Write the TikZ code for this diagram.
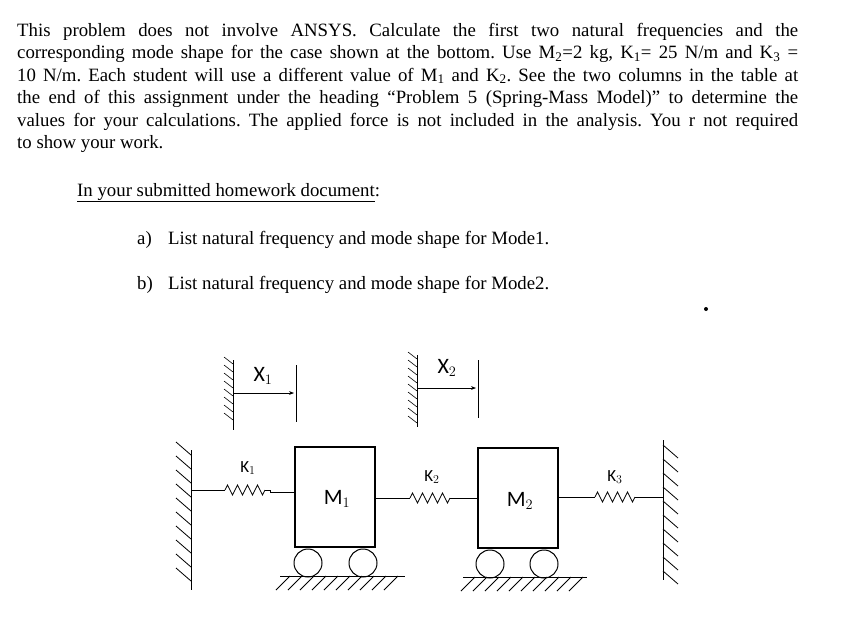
\documentclass[tikz,border=0pt]{standalone}
\usepackage{fontspec}
\setmainfont{Liberation Serif}
\newfontfamily\diagfont{Carlito}
\usetikzlibrary{decorations.pathmorphing,arrows.meta}
\begin{document}
\frenchspacing
\begin{tikzpicture}[x=1pt,y=-1pt,
  txt/.style={anchor=base west,inner sep=0pt,font=\fontsize{18.8}{21}\selectfont},
  lbl/.style={font=\diagfont\fontsize{22}{22}\selectfont,inner sep=0pt},
  klbl/.style={font=\diagfont\fontsize{17}{17}\selectfont,inner sep=0pt},
  mass/.style={draw,line width=1.2pt,minimum width=80pt,minimum height=100pt,inner sep=0pt},
  spr/.style={decorate,decoration={zigzag,segment length=10pt,amplitude=5pt,pre length=0pt,post length=0pt}},
  ln/.style={line width=0.8pt},
  wheel/.style={draw,line width=1pt,circle,minimum size=28pt,inner sep=0pt}]
\useasboundingbox (0,0) rectangle (862,625);
\fill[white] (0,0) rectangle (862,625);
\def\W{781pt}
\node[txt] (l1) at (17,36) {\makebox[\W][s]{This problem does not involve ANSYS. Calculate the first two natural frequencies and the}};
\node[txt] (l2) at (17,58.5) {\makebox[\W][s]{corresponding mode shape for the case shown at the bottom. Use M\textsubscript{2}=2 kg, K\textsubscript{1}= 25 N/m and K\textsubscript{3} =}};
\node[txt] (l3) at (17,81) {\makebox[\W][s]{10 N/m. Each student will use a different value of M\textsubscript{1} and K\textsubscript{2}. See the two columns in the table at}};
\node[txt] (l4) at (17,103.5) {\makebox[\W][s]{the end of this assignment under the heading “Problem 5 (Spring-Mass Model)” to determine the}};
\node[txt] (l5) at (17,126) {\makebox[\W][s]{values for your calculations. The applied force is not included in the analysis. You r not required}};
\node[txt] (l6) at (17,148.5) {to show your work.};
\node[txt] (hd) at (77,196) {\underline{In your submitted homework document}:};
\node[txt] (a) at (137,244) {a)};
\node[txt] (at) at (168,244) {List natural frequency and mode shape for Mode1.};
\node[txt] (b) at (137,289) {b)};
\node[txt] (bt) at (168,289) {List natural frequency and mode shape for Mode2.};
\fill (706,309) circle (2pt);

% walls
\coordinate (lwT) at (191,450); \coordinate (lwB) at (191,590);
\draw[ln] (lwT) -- (lwB);
\foreach \y in {455,469,...,585} \draw[ln] (191,\y) -- (176,\y-13);
\coordinate (rwT) at (663,440); \coordinate (rwB) at (663,580);
\draw[ln] (rwT) -- (rwB);
\foreach \y in {445,459,...,575} \draw[ln] (663,\y) -- (678,\y+13);
% masses
\node[mass] (m1) at (335,497) {};
\node[lbl] at (337,499) {M$_1$};
\node[mass] (m2) at (518,498) {};
\node[lbl] at (520,501) {M$_2$};
% wheels
\node[wheel] (w1) at (308,563) {}; \node[wheel] (w2) at (363,563) {};
\node[wheel] (w3) at (490,564) {}; \node[wheel] (w4) at (544,564) {};
\draw[ln] (280,576) -- (405,576);
\foreach \x in {290,302,...,400} \draw[ln] (\x,576) -- (\x-14,590);
\draw[ln] (463,577) -- (587,577);
\foreach \x in {475,487,...,585} \draw[ln] (\x,577) -- (\x-14,591);
% springs
\coordinate (k1a) at (225,490); \coordinate (k1b) at (265,490);
\draw[ln] (191,490) -- (k1a); \draw[ln,spr] (k1a) -- (k1b); \draw[ln] (k1b) -- (270,490) -- (270,492) -- (m1.west|-0,492);
\coordinate (k2a) at (410,498); \coordinate (k2b) at (450,498);
\draw[ln] (m1.east|-0,498) -- (k2a); \draw[ln,spr] (k2a) -- (k2b); \draw[ln] (k2b) -- (m2.west|-0,498);
\coordinate (k3a) at (595,497); \coordinate (k3b) at (635,497);
\draw[ln] (m2.east|-0,497) -- (k3a); \draw[ln,spr] (k3a) -- (k3b); \draw[ln] (k3b) -- (663,497);
\node[klbl] at (248,468) {K$_1$};
\node[klbl] at (432,477) {K$_2$};
\node[klbl] at (615,477) {K$_3$};
% displacement indicators
\draw[ln] (233,360) -- (233,430);
\foreach \y in {364,372,...,426} \draw[line width=0.6pt] (233,\y) -- (224,\y-7);
\coordinate (x1e) at (294,393);
\draw[line width=0.6pt,-{Stealth[length=5pt]}] (233,393) -- (x1e);
\draw[ln] (296,365) -- (296,422);
\node[lbl] at (263,376) {X$_1$};
\draw[ln] (417,355) -- (417,427);
\foreach \y in {359,367,...,423} \draw[line width=0.6pt] (417,\y) -- (408,\y-7);
\coordinate (x2e) at (476,388);
\draw[line width=0.6pt,-{Stealth[length=5pt]}] (417,388) -- (x2e);
\draw[ln] (478,360) -- (478,418);
\node[lbl] at (447,368) {X$_2$};
\end{tikzpicture}
\end{document}
